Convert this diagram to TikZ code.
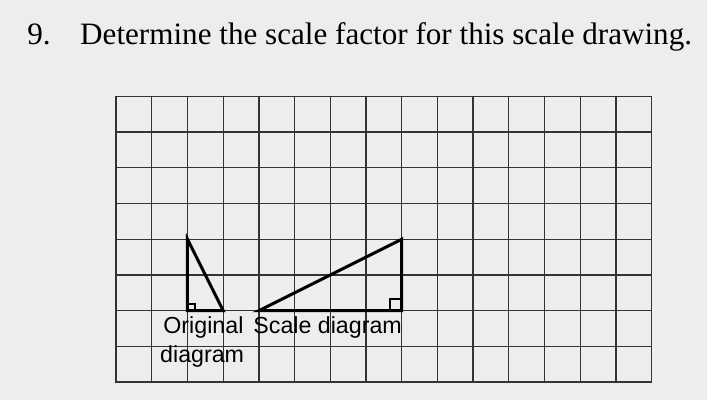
\documentclass[tikz,border=0pt]{standalone}
\usepackage{fontspec}
\usepackage{tikz}
\setmainfont{Liberation Serif}
\newfontfamily\lblfont{Liberation Sans}
\usetikzlibrary{positioning}

\begin{document}
\begin{tikzpicture}
	\useasboundingbox[fill=black!7](-3.25,-0.5)rectangle(16.55,10.7);
	% question
	\node[anchor=base west,inner sep=0pt,font=\fontsize{24.8}{30}\selectfont](num)at(-2.49,9.44){9.};
	\node[anchor=base west,inner sep=0pt,font=\fontsize{24.8}{30}\selectfont](quest)at(-1.01,9.44){Determine the scale factor for this scale drawing.};
	% grid paper
	\draw[line width=1pt,black!80](0,0)rectangle(15,8);
	\draw[line width=1pt,black!80,xstep=1,ystep=1](0,0)grid(15,8);
	\newcommand{\rsq}{0.2}
	% original triangle
	\coordinate(oA)at(2,2);
	\coordinate(oB)at(3,2);
	\coordinate(oC)at(2,4);
	\draw[line width=2.4pt,line join=miter](oA)--(oB)--(oC)--cycle;
	\draw[line width=1.6pt](2,2 +\rsq)-|(2 +\rsq,2);
	% scale triangle
	\coordinate(sA)at(8,2);
	\coordinate(sB)at(4,2);
	\coordinate(sC)at(8,4);
	\draw[line width=2.4pt,line join=miter](sA)--(sB)--(sC)--cycle;
	\draw[line width=1.6pt](8,2 +1.6*\rsq)-|(8 -1.6*\rsq,2);
	% labels
	\node[anchor=base west,inner sep=0pt,font=\lblfont\fontsize{18.5}{22}\selectfont](orig)at(1.32,1.36){Original};
	\node[anchor=base west,inner sep=0pt,font=\lblfont\fontsize{18.5}{22}\selectfont](origb)at(1.23,0.54){diagram};
	\node[anchor=base west,inner sep=0pt,font=\lblfont\fontsize{18.5}{22}\selectfont](scl)at(3.84,1.36){Scale diagram};
\end{tikzpicture}
\end{document}
